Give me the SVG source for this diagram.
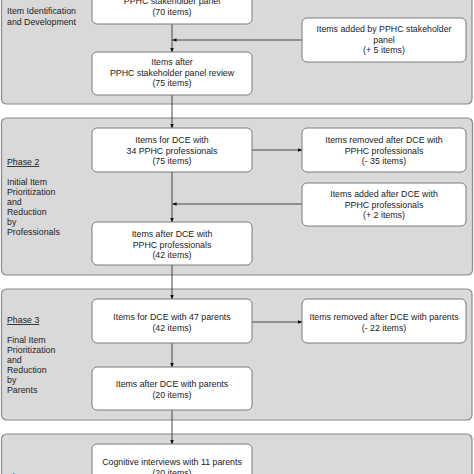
<svg xmlns="http://www.w3.org/2000/svg" width="474" height="474" viewBox="0 0 474 474">
<defs>
<style>
.panel{fill:#d9d9d9;stroke:#8a8a8a;stroke-width:1.2}
.box{fill:#ffffff;stroke:#7a7a7a;stroke-width:1}
.t{font-family:"Liberation Sans",Arial,sans-serif;font-size:8.8px;fill:#222}
.c{text-anchor:middle}
.ln{stroke:#333;stroke-width:0.9;fill:none}
</style>
<marker id="ah" viewBox="0 0 10 10" refX="9" refY="5" markerWidth="5" markerHeight="5" orient="auto">
<path d="M0,1 L10,5 L0,9 z" fill="#111"/>
</marker>
</defs>
<g id="panels">
<rect class="panel" x="1.5" y="-20" width="470.5" height="124" rx="5"/>
<rect class="panel" x="1.5" y="118" width="471" height="157" rx="5"/>
<rect class="panel" x="1.5" y="289" width="470.5" height="131" rx="5"/>
<rect class="panel" x="1.5" y="434" width="470.5" height="70" rx="5"/>
</g>
<g id="phase-labels">
<text class="t" x="7" y="14">Item Identification</text>
<text class="t" x="7" y="24.5">and Development</text>
<text class="t" x="7" y="165" text-decoration="underline">Phase 2</text>
<text class="t" x="7" y="185">Initial Item</text>
<text class="t" x="7" y="195">Prioritization</text>
<text class="t" x="7" y="205">and</text>
<text class="t" x="7" y="215">Reduction</text>
<text class="t" x="7" y="225">by</text>
<text class="t" x="7" y="235">Professionals</text>
<text class="t" x="7" y="323" text-decoration="underline">Phase 3</text>
<text class="t" x="7" y="343">Final Item</text>
<text class="t" x="7" y="353">Prioritization</text>
<text class="t" x="7" y="363">and</text>
<text class="t" x="7" y="373">Reduction</text>
<text class="t" x="7" y="383">by</text>
<text class="t" x="7" y="393">Parents</text>
<text class="t" x="7" y="480" text-decoration="underline">Phase 4</text>
</g>
<g id="connectors">
<line class="ln" x1="172" y1="24" x2="172" y2="52" marker-end="url(#ah)"/>
<line class="ln" x1="302" y1="40" x2="172.5" y2="40" marker-end="url(#ah)"/>
<line class="ln" x1="172" y1="95" x2="172" y2="128" marker-end="url(#ah)"/>
<line class="ln" x1="252" y1="150" x2="302" y2="150" marker-end="url(#ah)"/>
<line class="ln" x1="172" y1="172" x2="172" y2="222" marker-end="url(#ah)"/>
<line class="ln" x1="302" y1="204" x2="172.5" y2="204" marker-end="url(#ah)"/>
<line class="ln" x1="172" y1="265" x2="172" y2="299" marker-end="url(#ah)"/>
<line class="ln" x1="252" y1="322" x2="302" y2="322" marker-end="url(#ah)"/>
<line class="ln" x1="172" y1="343" x2="172" y2="367" marker-end="url(#ah)"/>
<line class="ln" x1="172" y1="410" x2="172" y2="444" marker-end="url(#ah)"/>
</g>
<g id="n-stakeholder">
<rect class="box" x="92" y="-20" width="160" height="44" rx="5"/>
<text class="t c" x="172" y="4">PPHC stakeholder panel</text>
<text class="t c" x="172" y="15">(70 items)</text>
</g>
<g id="n-added-stakeholder">
<rect class="box" x="302" y="18" width="164" height="44" rx="5"/>
<text class="t c" x="384" y="32">Items added by PPHC stakeholder</text>
<text class="t c" x="384" y="42.5">panel</text>
<text class="t c" x="384" y="53">(+ 5 items)</text>
</g>
<g id="n-after-review">
<rect class="box" x="92" y="52" width="160" height="43" rx="5"/>
<text class="t c" x="172" y="65">Items after</text>
<text class="t c" x="172" y="75.5">PPHC stakeholder panel review</text>
<text class="t c" x="172" y="86">(75 items)</text>
</g>
<g id="n-dce-prof">
<rect class="box" x="92" y="128" width="160" height="44" rx="5"/>
<text class="t c" x="172" y="143">Items for DCE with</text>
<text class="t c" x="172" y="153.5">34 PPHC professionals</text>
<text class="t c" x="172" y="164">(75 items)</text>
</g>
<g id="n-removed-prof">
<rect class="box" x="302" y="128" width="164" height="44" rx="5"/>
<text class="t c" x="384" y="143">Items removed after DCE with</text>
<text class="t c" x="384" y="153.5">PPHC professionals</text>
<text class="t c" x="384" y="164">(- 35 items)</text>
</g>
<g id="n-added-prof">
<rect class="box" x="302" y="183" width="164" height="43" rx="5"/>
<text class="t c" x="384" y="197">Items added after DCE with</text>
<text class="t c" x="384" y="207.5">PPHC professionals</text>
<text class="t c" x="384" y="218">(+ 2 items)</text>
</g>
<g id="n-after-prof">
<rect class="box" x="92" y="222" width="160" height="43" rx="5"/>
<text class="t c" x="172" y="237">Items after DCE with</text>
<text class="t c" x="172" y="247.5">PPHC professionals</text>
<text class="t c" x="172" y="258">(42 items)</text>
</g>
<g id="n-dce-parents">
<rect class="box" x="92" y="299" width="160" height="44" rx="5"/>
<text class="t c" x="172" y="320">Items for DCE with 47 parents</text>
<text class="t c" x="172" y="330.5">(42 items)</text>
</g>
<g id="n-removed-parents">
<rect class="box" x="302" y="299" width="164" height="44" rx="5"/>
<text class="t c" x="384" y="320">Items removed after DCE with parents</text>
<text class="t c" x="384" y="330.5">(- 22 items)</text>
</g>
<g id="n-after-parents">
<rect class="box" x="92" y="367" width="160" height="43" rx="5"/>
<text class="t c" x="172" y="387">Items after DCE with parents</text>
<text class="t c" x="172" y="397.5">(20 items)</text>
</g>
<g id="n-cognitive">
<rect class="box" x="92" y="444" width="160" height="50" rx="5"/>
<text class="t c" x="172" y="465">Cognitive interviews with 11 parents</text>
<text class="t c" x="172" y="475.5">(20 items)</text>
</g>
</svg>
